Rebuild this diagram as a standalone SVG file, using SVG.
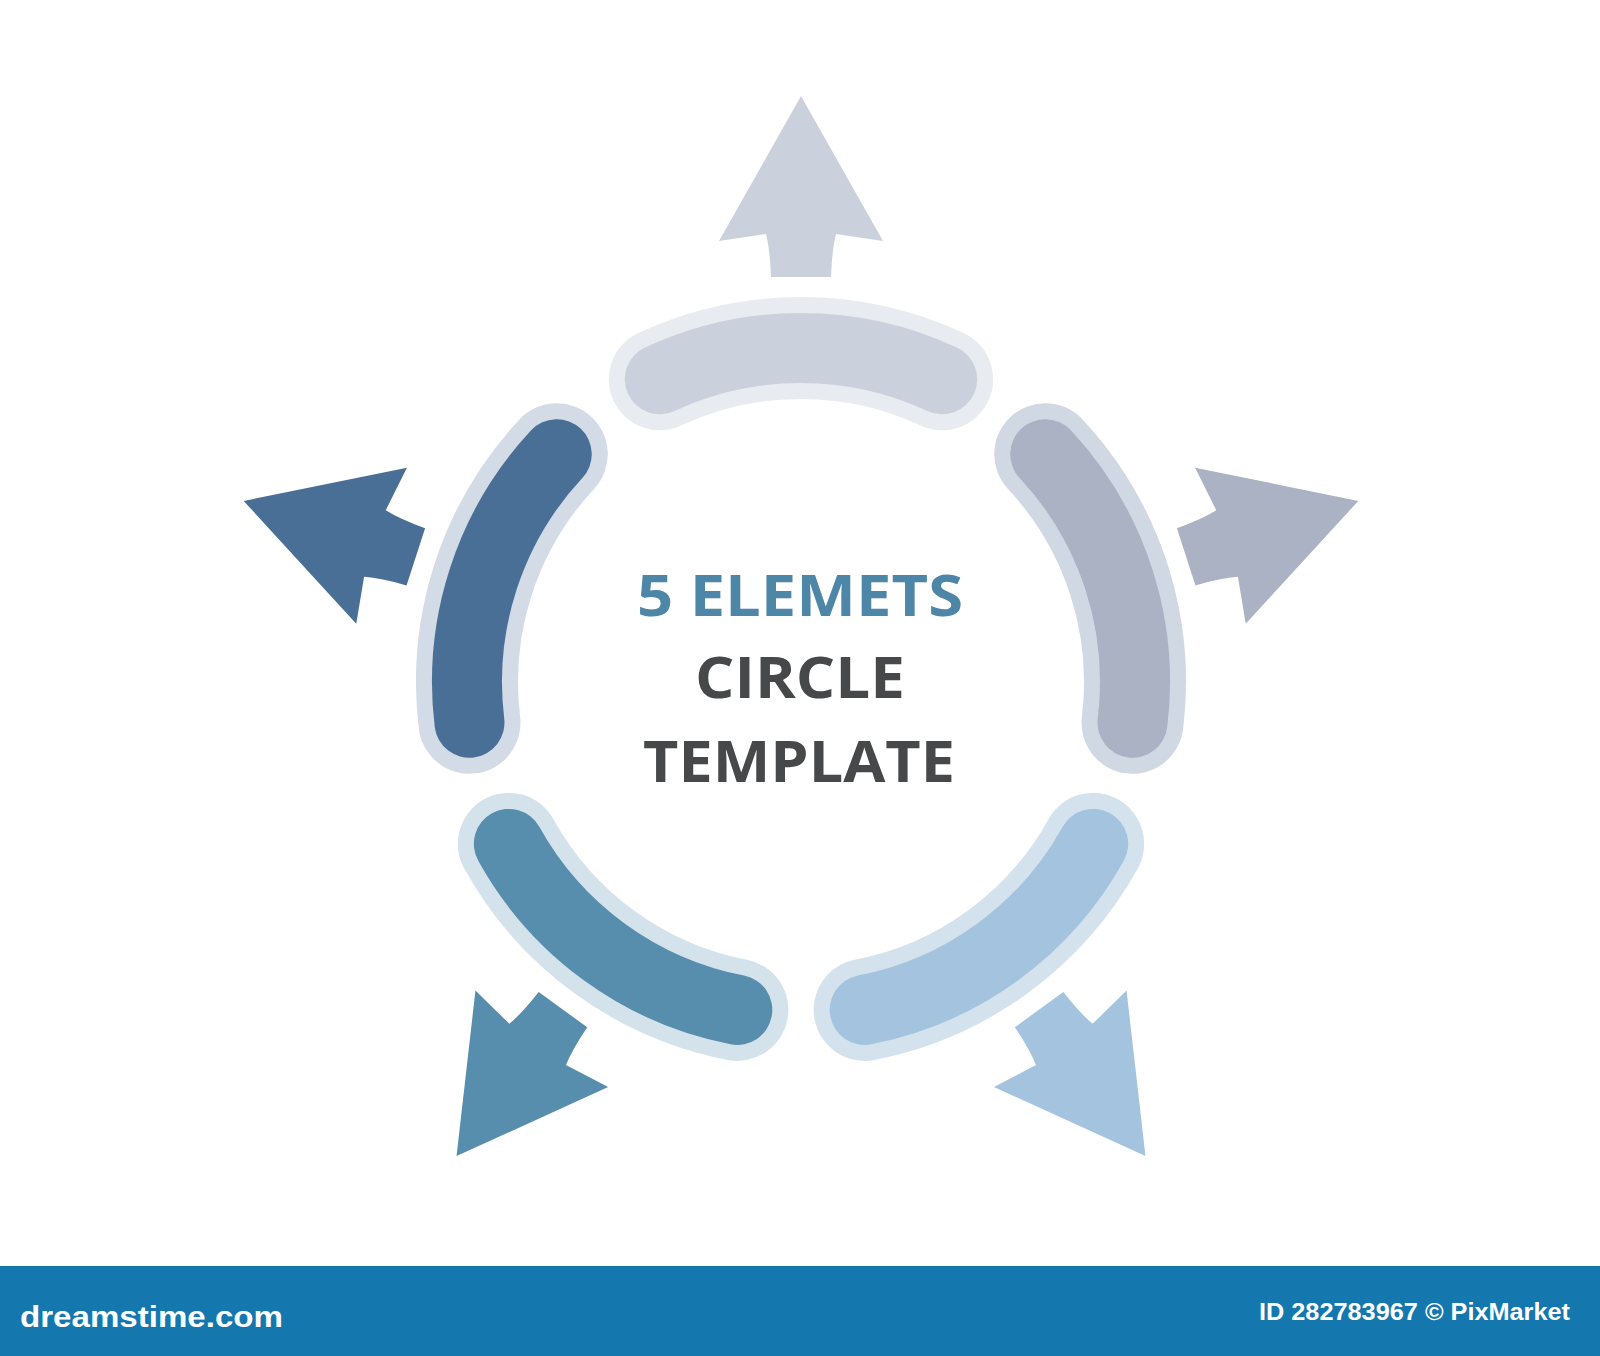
<svg xmlns="http://www.w3.org/2000/svg" xmlns:xlink="http://www.w3.org/1999/xlink" width="1600" height="1356" viewBox="0 0 1600 1356">
  <style>
    .outline { fill: none; stroke-width: 102; stroke-linecap: round; }
    .band { fill: none; stroke-width: 70; stroke-linecap: round; }
    .title { font-family: "Open Sans", "Liberation Sans", sans-serif; font-weight: 700; font-size: 58px; }
    .foot { font-family: "Liberation Sans", Arial, sans-serif; fill: #ffffff; }
  </style>
  <defs>
    <path id="arc" d="M-141.2,-302.7 A334,334 0 0 1 141.2,-302.7"/>
    <path id="arrow" d="M0,-586 L82,-441 L35,-448 Q31,-432 30,-405 L-30,-405 Q-31,-432 -35,-448 L-82,-441 Z"/>
  </defs>
  <rect width="1600" height="1356" fill="#ffffff"/>

  <g id="node-top" transform="translate(801,682) rotate(0)">
    <use xlink:href="#arc" href="#arc" class="outline" stroke="#e8ebf0"/>
    <use xlink:href="#arc" href="#arc" class="band" stroke="#cad1dc"/>
    <use xlink:href="#arrow" href="#arrow" fill="#cad1dc"/>
  </g>
  <g id="node-right" transform="translate(801,682) rotate(72)">
    <use xlink:href="#arc" href="#arc" class="outline" stroke="#d0d8e3"/>
    <use xlink:href="#arc" href="#arc" class="band" stroke="#aab2c3"/>
    <use xlink:href="#arrow" href="#arrow" fill="#aab2c3"/>
  </g>
  <g id="node-bottom-right" transform="translate(801,682) rotate(144)">
    <use xlink:href="#arc" href="#arc" class="outline" stroke="#d3e2ec"/>
    <use xlink:href="#arc" href="#arc" class="band" stroke="#a3c3df"/>
    <use xlink:href="#arrow" href="#arrow" fill="#a3c3df"/>
  </g>
  <g id="node-bottom-left" transform="translate(801,682) rotate(216)">
    <use xlink:href="#arc" href="#arc" class="outline" stroke="#d4e2ec"/>
    <use xlink:href="#arc" href="#arc" class="band" stroke="#578dad"/>
    <use xlink:href="#arrow" href="#arrow" fill="#578dad"/>
  </g>
  <g id="node-left" transform="translate(801,682) rotate(288)">
    <use xlink:href="#arc" href="#arc" class="outline" stroke="#d2dbe6"/>
    <use xlink:href="#arc" href="#arc" class="band" stroke="#4a6f96"/>
    <use xlink:href="#arrow" href="#arrow" fill="#4a6f96"/>
  </g>

  <g id="connectors"/>

  <g id="node-title">
    <text class="title" x="637" y="616" fill="#4e86a8" textLength="326" lengthAdjust="spacingAndGlyphs">5 ELEMETS</text>
    <text class="title" x="695" y="698" fill="#474849" textLength="210" lengthAdjust="spacingAndGlyphs">CIRCLE</text>
    <text class="title" x="643" y="782" fill="#474849" textLength="312" lengthAdjust="spacingAndGlyphs">TEMPLATE</text>
  </g>

  <g id="footer">
    <rect x="0" y="1266" width="1600" height="90" fill="#1477ae"/>
    <text class="foot" x="20" y="1327" font-size="30" font-weight="700" textLength="263" lengthAdjust="spacingAndGlyphs">dreamstime.com</text>
    <text class="foot" x="1259" y="1320" font-size="24" font-weight="700" textLength="311" lengthAdjust="spacingAndGlyphs">ID 282783967 © PixMarket</text>
  </g>
</svg>
